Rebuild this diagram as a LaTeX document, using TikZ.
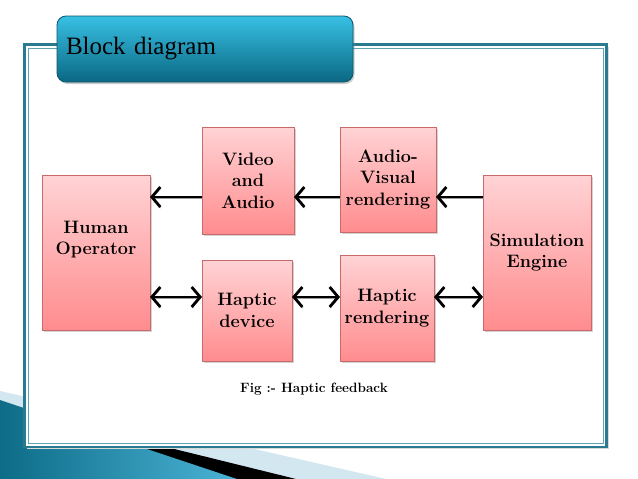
\documentclass[tikz,border=0pt]{standalone}
\usepackage{fontspec}
\newfontfamily\titlefont{Liberation Serif}
\usetikzlibrary{arrows.meta,shadows,calc}
\definecolor{frameteal}{HTML}{2A7B8F}
\definecolor{frameinner}{HTML}{5FA3B4}
\definecolor{pinktop}{HTML}{FFD3D5}
\definecolor{pinkbot}{HTML}{FF8C8E}
\definecolor{pinkedge}{HTML}{C86A6C}
\definecolor{titletop}{HTML}{38C0E4}
\definecolor{titlebot}{HTML}{0A6883}
\definecolor{titleedge}{HTML}{0A566C}
\definecolor{decoblueL}{HTML}{0D6C87}
\definecolor{decoblueR}{HTML}{4BB3D6}
\definecolor{decolight}{HTML}{D3E7F0}
\tikzset{
  block/.style={rectangle, draw=pinkedge, line width=0.6pt, top color=pinktop, bottom color=pinkbot,
    inner sep=0pt, outer sep=0pt, align=center, font=\fontsize{18}{21.5}\selectfont\bfseries,
    drop shadow={shadow xshift=1.5pt, shadow yshift=-1.5pt, opacity=0.35}},
  arr/.style={line width=2.8pt, black, {Straight Barb[length=8.5pt,width=20pt]}-,
    preaction={draw=black!40, transform canvas={xshift=0.6pt,yshift=-1.2pt}}},
  darr/.style={line width=2.8pt, black, {Straight Barb[length=8.5pt,width=20pt]}-{Straight Barb[length=8.5pt,width=20pt]},
    preaction={draw=black!40, transform canvas={xshift=0.6pt,yshift=-1.2pt}}},
  titlebox/.style={rectangle, rounded corners=9pt, draw=titleedge, line width=0.8pt,
    top color=titletop, bottom color=titlebot, minimum width=296pt, minimum height=66pt,
    text width=278pt, align=left, inner sep=0pt, font=\titlefont\fontsize{25}{30}\selectfont,
    drop shadow={shadow xshift=1.5pt, shadow yshift=-2pt, opacity=0.4}},
}
\begin{document}
\begin{tikzpicture}[x=1pt,y=-1pt]
\useasboundingbox (0,0) rectangle (638,479);
\fill[white] (0,0) rectangle (638,479);
% bottom-left decoration
\fill[decolight] (0,391) -- (386,479) -- (0,479) -- cycle;
\fill[black] (0,406) -- (296,479) -- (0,479) -- cycle;
\shade[left color=decoblueL, right color=decoblueR] (0,400) -- (237,479) -- (0,479) -- cycle;
% frame
\fill[black!15] (26.5,46.5) rectangle (608.5,449);
\draw[frameteal, line width=2.5pt, fill=white] (24.5,44.5) rectangle (606.5,447);
\draw[frameinner, line width=0.8pt] (28,48) rectangle (603,443.5);
% title
\node[titlebox] (title) at (205,49) {\raisebox{-3pt}{Block diagram}};
% blocks
\node[block, minimum width=108pt, minimum height=155pt] (human) at (96,252.5) {Human\\Operator\\[8pt]};
\node[block, minimum width=92pt, minimum height=107pt] (video) at (248,180.5) {Video\\and\\Audio};
\node[block, minimum width=96pt, minimum height=105pt] (av) at (388,179.5) {Audio-\\Visual\\rendering};
\node[block, minimum width=90pt, minimum height=101pt] (hdev) at (247,310.5) {Haptic\\device};
\node[block, minimum width=94pt, minimum height=106pt] (hrend) at (387,308) {Haptic\\rendering};
\node[block, minimum width=108pt, minimum height=155pt] (sim) at (537,252.5) {Simulation\\Engine};
% connectors
\draw[arr] ($(video.west -| human.east)+(0,16.5)$) -- ($(video.west)+(0,16.5)$);
\draw[arr] ($(av.west -| video.east)+(0,17.5)$) -- ($(av.west)+(0,17.5)$);
\draw[arr] ($(sim.west -| av.east)+(0,-55.5)$) -- ($(sim.west)+(0,-55.5)$);
\draw[darr] ($(human.east)+(0,44.5)$) -- ($(human.east -| hdev.west)+(0,44.5)$);
\draw[darr] ($(hdev.east)+(0,-13.5)$) -- ($(hdev.east -| hrend.west)+(0,-13.5)$);
\draw[darr] ($(hrend.east)+(0,-11)$) -- ($(hrend.east -| sim.west)+(0,-11)$);
% caption
\node[font=\fontsize{13.5}{15}\selectfont\bfseries] (caption) at (314,389) {Fig :- Haptic feedback};
\end{tikzpicture}
\end{document}
